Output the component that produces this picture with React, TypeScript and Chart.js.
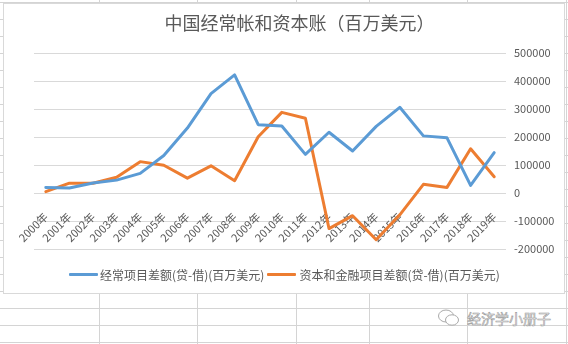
import React, { useEffect, useRef } from "react";
import { Chart, registerables } from "chart.js";

Chart.register(...registerables);

const years = [
  "2000年", "2001年", "2002年", "2003年", "2004年", "2005年", "2006年", "2007年", "2008年", "2009年",
  "2010年", "2011年", "2012年", "2013年", "2014年", "2015年", "2016年", "2017年", "2018年", "2019年",
];

const currentAccount = [
  20000, 18000, 36000, 46000, 70000, 134000, 232000, 355000, 422000, 244000,
  239000, 138000, 217000, 150000, 238000, 306000, 204000, 197000, 27000, 144000,
];

const capitalFinancial = [
  5000, 35000, 35000, 56000, 112000, 99000, 53000, 97000, 44000, 201000,
  288000, 267000, -127000, -81000, -167000, -78000, 31000, 20000, 158000, 58000,
];

const seriesNames = ["经常项目差额(贷-借)(百万美元)", "资本和金融项目差额(贷-借)(百万美元)"];
const titleText = "中国经常帐和资本账（百万美元）";
const yMin = -200000;
const yMax = 500000;
const yStep = 100000;

const BLUE = "#5B9BD5";
const ORANGE = "#ED7D31";
const FONT = "'Noto Sans CJK SC', 'Noto Sans', sans-serif";
const TEXT = "#595959";

const colLines = [99, 197, 296, 369, 467, 566];
const rowLines = Array.from({ length: 21 }, (_, i) => 2 + i * 17);

export default function App() {
  const ref = useRef<HTMLCanvasElement | null>(null);

  useEffect(() => {
    document.body.style.margin = "0";
    const ctx = ref.current!;
    const chart = new Chart(ctx, {
      type: "line",
      data: {
        labels: years,
        datasets: [
          {
            label: seriesNames[0],
            data: currentAccount,
            borderColor: BLUE,
            backgroundColor: BLUE,
            borderWidth: 3,
            pointRadius: 0,
            tension: 0,
            borderJoinStyle: "round",
            borderCapStyle: "round",
          },
          {
            label: seriesNames[1],
            data: capitalFinancial,
            borderColor: ORANGE,
            backgroundColor: ORANGE,
            borderWidth: 3,
            pointRadius: 0,
            tension: 0,
            borderJoinStyle: "round",
            borderCapStyle: "round",
          },
        ],
      },
      options: {
        animation: false,
        responsive: false,
        maintainAspectRatio: false,
        layout: { padding: { left: 31, top: 9, right: 0, bottom: 44 } },
        plugins: {
          legend: { display: false },
          tooltip: { enabled: false },
          title: {
            display: true,
            text: titleText,
            color: TEXT,
            font: { family: FONT, size: 18, weight: "normal" },
            padding: { top: 0, bottom: 19.4 },
          },
        },
        scales: {
          x: {
            type: "category",
            position: { y: 0 } as any,
            offset: true,
            grid: { display: false },
            border: { display: false },
            ticks: {
              autoSkip: false,
              minRotation: 45,
              maxRotation: 45,
              padding: 9,
              color: TEXT,
              font: { family: FONT, size: 11 },
            },
          },
          y: {
            position: "right",
            min: yMin,
            max: yMax,
            grid: { color: "#d9d9d9", lineWidth: 1, drawTicks: false },
            border: { display: false },
            ticks: {
              stepSize: yStep,
              padding: 8,
              color: TEXT,
              font: { family: FONT, size: 11 },
              callback: (v: any) => String(v),
            },
            afterFit: (scale: any) => {
              scale.width = 59;
            },
          },
        },
      },
    });
    return () => chart.destroy();
  }, []);

  return (
    <div style={{ position: "absolute", left: 0, top: 0, width: 568, height: 344, background: "#fff", overflow: "hidden", fontFamily: FONT }}>
      {colLines.map((x) => (
        <div key={"c" + x} style={{ position: "absolute", left: x, top: 0, width: 1, height: 344, background: "#d4d4d4" }} />
      ))}
      {rowLines.map((y) => (
        <div key={"r" + y} style={{ position: "absolute", left: 0, top: y, width: 568, height: 1, background: "#d4d4d4" }} />
      ))}
      <div style={{ position: "absolute", left: 3, top: 3, width: 562, height: 291, boxSizing: "border-box", border: "1px solid #d9d9d9", background: "#fff" }} />
      <canvas ref={ref} width={562} height={290} style={{ position: "absolute", left: 3, top: 3, width: 562, height: 290 }} />
      <div style={{ position: "absolute", left: 69, top: 265, height: 18, display: "flex", alignItems: "center", fontSize: 12, color: TEXT, whiteSpace: "nowrap" }}>
        <span style={{ display: "inline-block", width: 29, height: 3, background: BLUE, marginRight: 2, borderRadius: 1 }} />
        <span style={{ marginRight: 3 }}>{seriesNames[0]}</span>
        <span style={{ display: "inline-block", width: 29, height: 3, background: ORANGE, marginRight: 3, borderRadius: 1 }} />
        <span>{seriesNames[1]}</span>
      </div>
      <div style={{ position: "absolute", left: 437, top: 308, display: "flex", alignItems: "center" }}>
        <svg width="24" height="20" viewBox="0 0 24 20">
          <ellipse cx="9" cy="8" rx="7.5" ry="6" fill="#fff" stroke="#aaa" strokeWidth="1" />
          <ellipse cx="15" cy="12" rx="6.5" ry="5.2" fill="#fff" stroke="#aaa" strokeWidth="1" />
        </svg>
        <span style={{ marginLeft: 6, fontSize: 14, color: "#fff", WebkitTextStroke: "0.6px #9a9a9a", letterSpacing: 0 }}>经济学小册子</span>
      </div>
    </div>
  );
}
